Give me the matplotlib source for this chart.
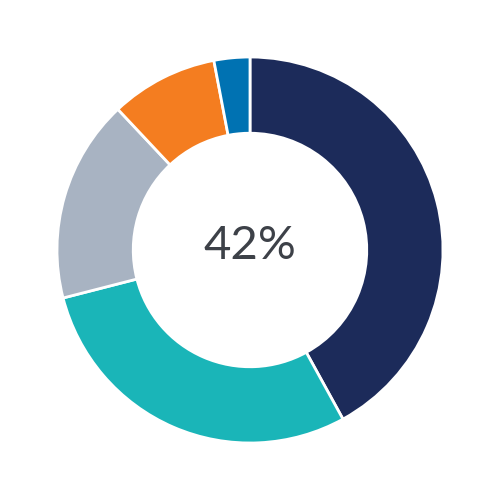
import matplotlib.pyplot as plt

shares = [42, 29, 17, 9, 3]
colors = ['#1c2b5a', '#1ab5b8', '#a8b3c2', '#f47d20', '#0072b2']
center_label = '42%'

fig = plt.figure(figsize=(5, 5), dpi=100)
ax = fig.add_axes([0, 0, 1, 1])

ax.pie(shares, colors=colors, startangle=90, counterclock=False,
       radius=1, wedgeprops=dict(width=0.395, edgecolor='white', linewidth=2))

ax.text(0, 0.02, center_label, ha='center', va='center', fontsize=34,
        family='Lato', weight='normal', color='#3d4148')

lim = 250 / 193
ax.set_xlim(-lim, lim)
ax.set_ylim(-lim, lim)
ax.set_aspect('equal')
ax.axis('off')

fig.savefig('out.png', dpi=100, facecolor='white')
